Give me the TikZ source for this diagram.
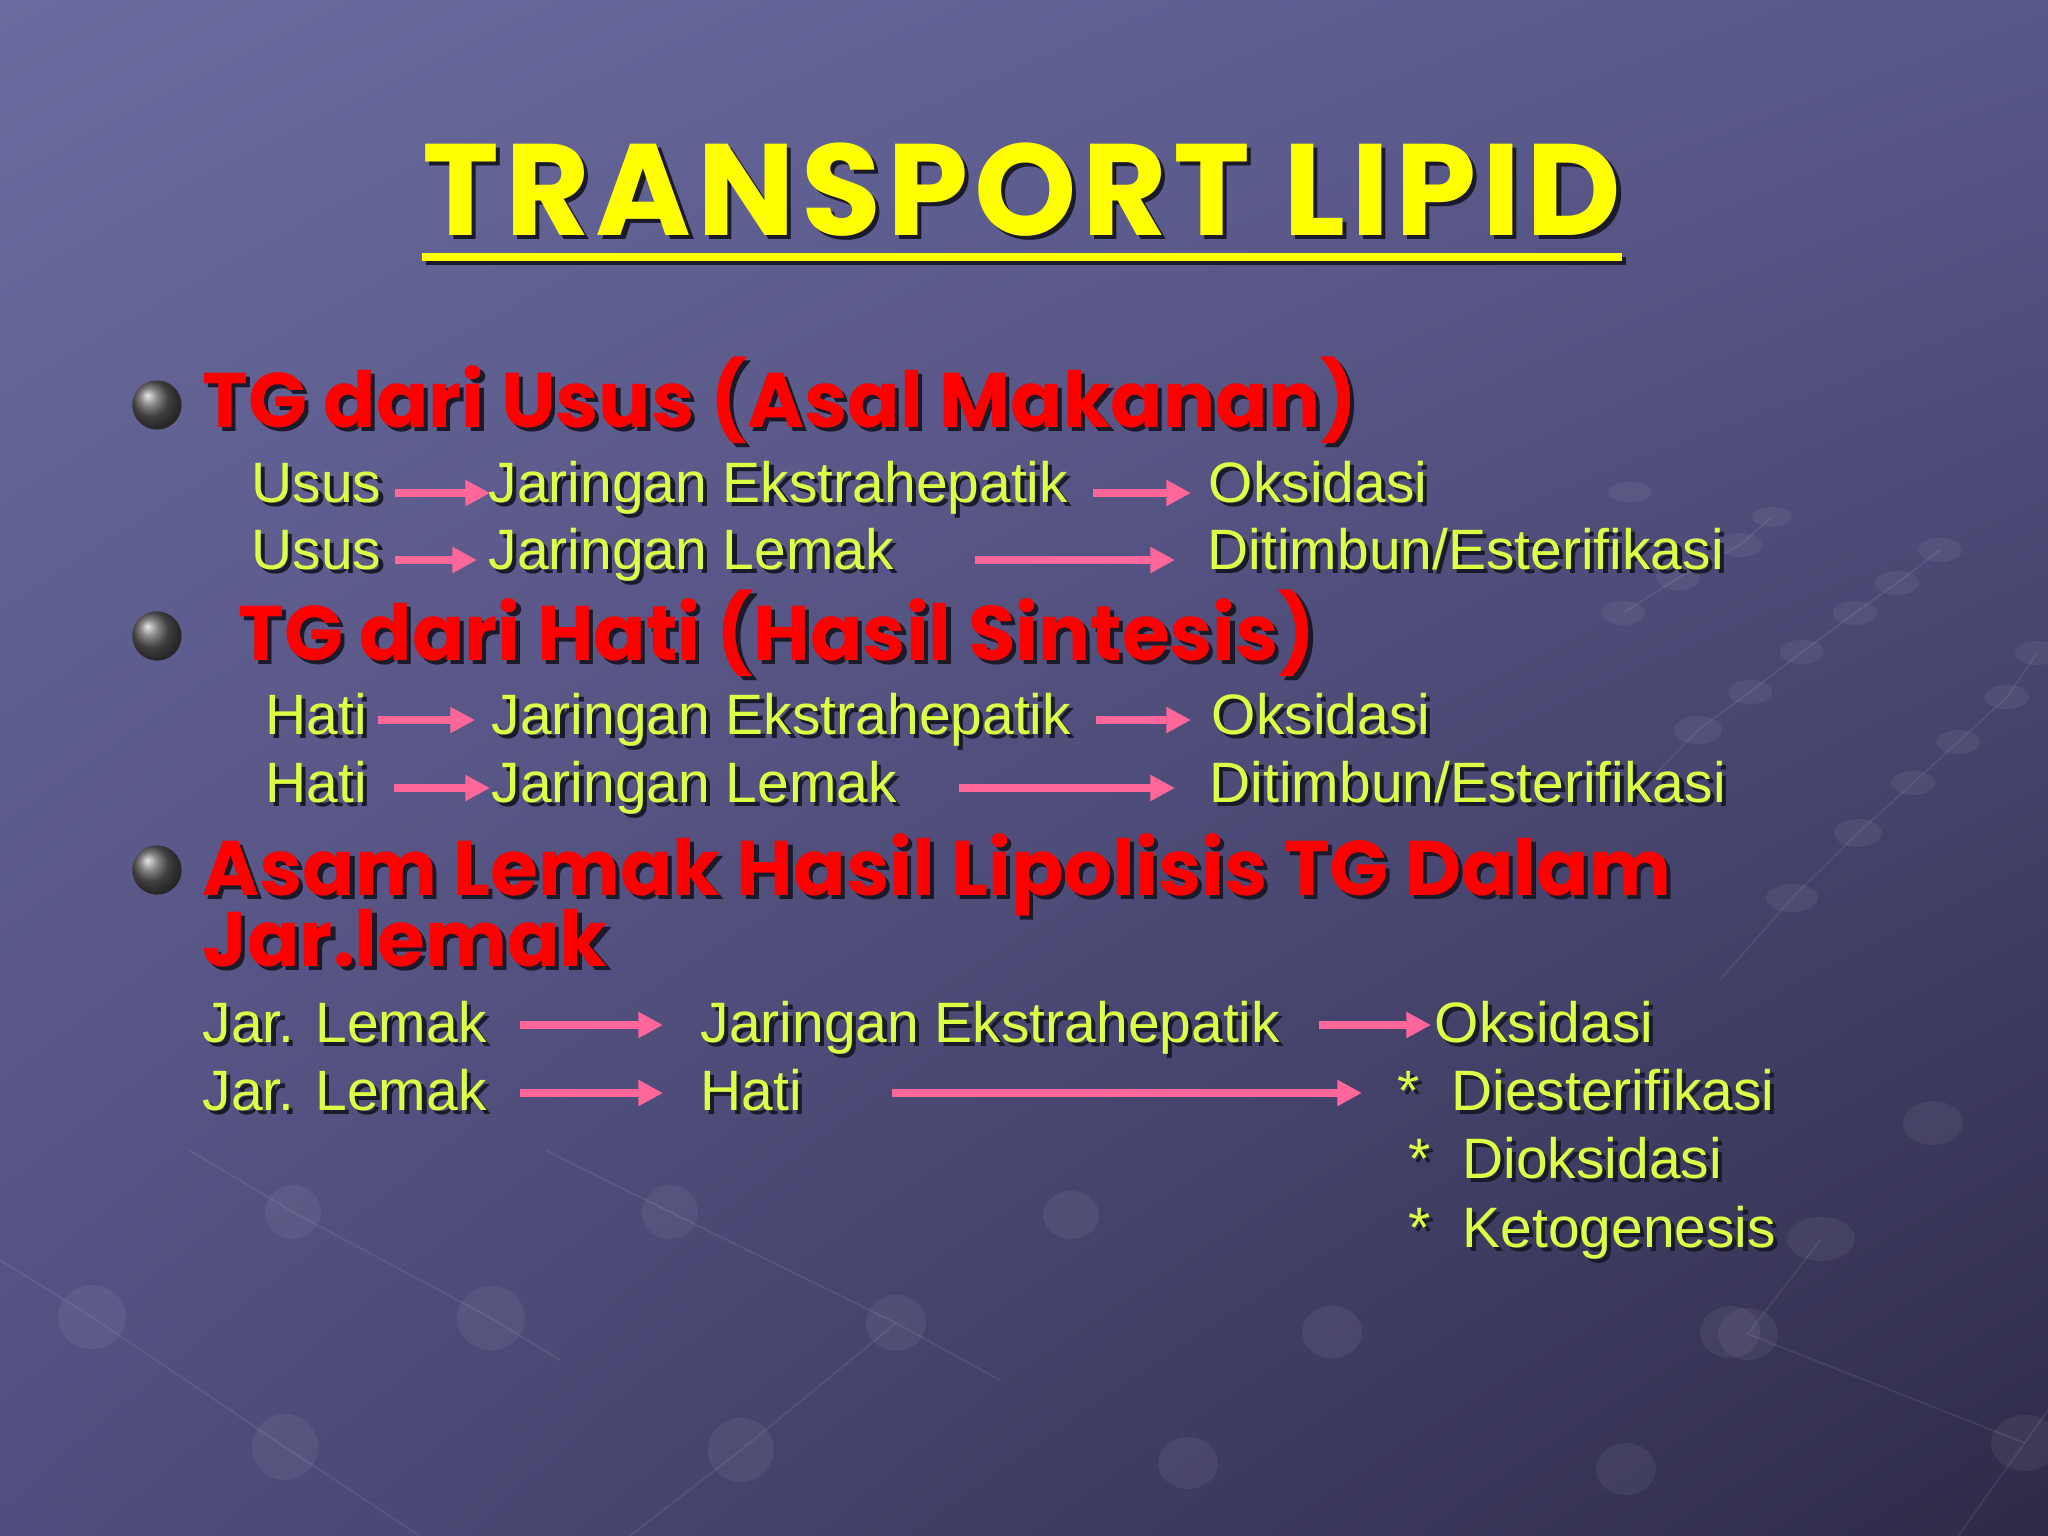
\documentclass[tikz,border=0pt]{standalone}
\usepackage{fontspec}
\usetikzlibrary{arrows.meta,calc,shadings}
\newfontfamily\headfont{Poppins}
\newfontfamily\titlefont{Poppins}[LetterSpace=4.5]
\newfontfamily\bodyfont{Liberation Sans}
\definecolor{bgTL}{HTML}{6B6B9F}
\definecolor{bgTR}{HTML}{58578A}
\definecolor{bgBL}{HTML}{504E7E}
\definecolor{bgBR}{HTML}{2E2B48}
\definecolor{titleyellow}{HTML}{FFFF00}
\definecolor{headred}{HTML}{FF0000}
\definecolor{bodylime}{HTML}{DDFF44}
\definecolor{flowpink}{HTML}{FF6699}
\definecolor{shadowc}{HTML}{1A1A2A}
\newcommand\shd[1]{\rlap{\kern1.2pt\raisebox{-1.2pt}{\textcolor{shadowc}{#1}}}#1}
\tikzset{
  sphere/.style={fill=white, opacity=0.06},
  netline/.style={draw=white, opacity=0.08, line width=0.5pt},
  title/.style={anchor=base, inner sep=0pt, text=titleyellow,
    font=\titlefont\bfseries\fontsize{37}{40}\selectfont},
  uline/.style={draw=titleyellow, line width=2.3pt},
  heading/.style={anchor=base west, inner sep=0pt, text=headred,
    font=\headfont\bfseries\fontsize{22}{26}\selectfont},
  txt/.style={anchor=base west, inner sep=0pt, text=bodylime,
    font=\bodyfont\fontsize{16.2}{20}\selectfont},
  bullet/.style={circle, inner sep=0pt, minimum width=13pt, minimum height=14pt,
    ball color=gray!70!black},
  flow/.style={draw=flowpink, line width=2pt, -{Triangle[length=7pt,width=7pt]}},
}
\begin{document}
\begin{tikzpicture}[x=0.01cm, y=-0.01cm]
  % background
  \shade[upper left=bgTL, upper right=bgTR, lower left=bgBL, lower right=bgBR]
    (0,0) rectangle (2048,1536);
  \useasboundingbox (0,0) rectangle (2048,1536);

  % faint network in the background
  \path[netline] (0,1260) -- (92,1317) -- (285,1447) -- (420,1536);
  \path[netline] (189,1150) -- (293,1212) -- (491,1318) -- (560,1360);
  \path[netline] (545,1150) -- (670,1212) -- (896,1323) -- (1000,1380);
  \path[netline] (896,1323) -- (741,1450) -- (630,1536);
  \path[netline] (1821,1239) -- (1748,1334) -- (2025,1443);
  \path[netline] (2048,1410) -- (1958,1536);
  \path[netline] (1940,550) -- (1897,583) -- (1855,613) -- (1802,652) -- (1750,692) -- (1698,730) -- (1640,790);
  \path[netline] (2037,653) -- (2007,697) -- (1958,742) -- (1913,783) -- (1858,833) -- (1792,898) -- (1720,980);
  \path[netline] (1772,517) -- (1740,545) -- (1678,578) -- (1623,613);
  \foreach \sx/\sy/\rx/\ry in {293/1212/28/27, 670/1212/28/27, 92/1317/34/32, 491/1318/34/32,
      285/1447/33/33, 741/1450/33/32, 896/1323/30/28, 1332/1332/30/26, 1730/1332/30/26,
      1071/1215/28/24, 1188/1463/30/26, 1626/1469/30/26, 2025/1443/34/28, 1821/1239/34/22,
      1748/1334/30/26, 1933/1123/30/22, 1630/492/22/10, 1772/517/20/10, 1740/545/22/12,
      1678/578/22/12, 1623/613/22/12, 1940/550/22/12, 1897/583/22/12, 1855/613/22/12,
      1802/652/22/12, 1750/692/22/12, 1698/730/24/14, 2037/653/22/12, 2007/697/22/12,
      1958/742/22/12, 1913/783/22/12, 1858/833/24/14, 1792/898/26/14}
    \fill[sphere] (\sx,\sy) ellipse (\rx*1 and \ry*1);

  % title
  \node[title] (title) at (1022,235) {\shd{TRANSPORT LIPID}};
  \draw[uline, draw=shadowc] ($(title.base west)+(4,26)$) -- ($(title.base east)+(4,26)$);
  \draw[uline] ($(title.base west)+(0,22)$) -- ($(title.base east)+(0,22)$);

  % TG dari usus
  \node[bullet] (b1) at (157,405) {};
  \node[heading] (h1) at (202,427) {\shd{TG dari Usus (Asal Makanan)}};
  \node[txt] (usus1) at (251,502) {\shd{Usus}};
  \node[txt] (jar1) at (488,502) {\shd{Jaringan Ekstrahepatik}};
  \node[txt] (oks1) at (1208,502) {\shd{Oksidasi}};
  \node[txt] (usus2) at (251,569) {\shd{Usus}};
  \node[txt] (lem2) at (488,569) {\shd{Jaringan Lemak}};
  \node[txt] (dit2) at (1207,569) {\shd{Ditimbun/Esterifikasi}};
  \draw[flow] ($(usus1.base east)+(13,-9)$) -- ($(jar1.base west)+(2,-9)$);
  \draw[flow] ($(jar1.base east)+(24,-9)$) -- ($(oks1.base west)+(-17,-9)$);
  \draw[flow] ($(usus2.base east)+(13,-9)$) -- ($(lem2.base west)+(-11,-9)$);
  \draw[flow] ($(lem2.base east)+(80,-9)$) -- ($(dit2.base west)+(-32,-9)$);

  % TG dari hati
  \node[bullet] (b2) at (157,636) {};
  \node[heading] (h2) at (238,660) {\shd{TG dari Hati (Hasil Sintesis)}};
  \node[txt] (hati3) at (265,734) {\shd{Hati}};
  \node[txt] (jar3) at (491,734) {\shd{Jaringan Ekstrahepatik}};
  \node[txt] (oks3) at (1211,734) {\shd{Oksidasi}};
  \node[txt] (hati4) at (265,802) {\shd{Hati}};
  \node[txt] (lem4) at (491,802) {\shd{Jaringan Lemak}};
  \node[txt] (dit4) at (1209,802) {\shd{Ditimbun/Esterifikasi}};
  \draw[flow] ($(hati3.base east)+(10,-14)$) -- ($(jar3.base west)+(-16,-14)$);
  \draw[flow] ($(jar3.base east)+(24,-14)$) -- ($(oks3.base west)+(-20,-14)$);
  \draw[flow] ($(hati4.base east)+(26,-14)$) -- ($(lem4.base west)+(-1,-14)$);
  \draw[flow] ($(lem4.base east)+(61,-14)$) -- ($(dit4.base west)+(-34,-14)$);

  % asam lemak
  \node[bullet] (b3) at (157,870) {};
  \node[heading] (h3) at (202,895) {\shd{Asam Lemak Hasil Lipolisis TG Dalam}};
  \node[heading] (h3b) at (202,966) {\shd{Jar.lemak}};
  \node[txt] (jl5) at (202,1042) {\shd{Jar. Lemak}};
  \node[txt] (jar5) at (700,1042) {\shd{Jaringan Ekstrahepatik}};
  \node[txt] (oks5) at (1434,1042) {\shd{Oksidasi}};
  \node[txt] (jl6) at (202,1110) {\shd{Jar. Lemak}};
  \node[txt] (hati6) at (700,1110) {\shd{Hati}};
  \node[txt] (dies6) at (1397,1110) {\shd{*\ \ Diesterifikasi}};
  \node[txt] (diok7) at (1408,1178) {\shd{*\ \ Dioksidasi}};
  \node[txt] (keto8) at (1408,1247) {\shd{*\ \ Ketogenesis}};
  \draw[flow] ($(jl5.base east)+(33,-17)$) -- ($(jar5.base west)+(-37,-17)$);
  \draw[flow] ($(jar5.base east)+(38,-17)$) -- ($(oks5.base west)+(-3,-17)$);
  \draw[flow] ($(jl6.base east)+(33,-17)$) -- ($(hati6.base west)+(-37,-17)$);
  \draw[flow] ($(hati6.base east)+(89,-17)$) -- ($(dies6.base west)+(-35,-17)$);
\end{tikzpicture}
\end{document}
